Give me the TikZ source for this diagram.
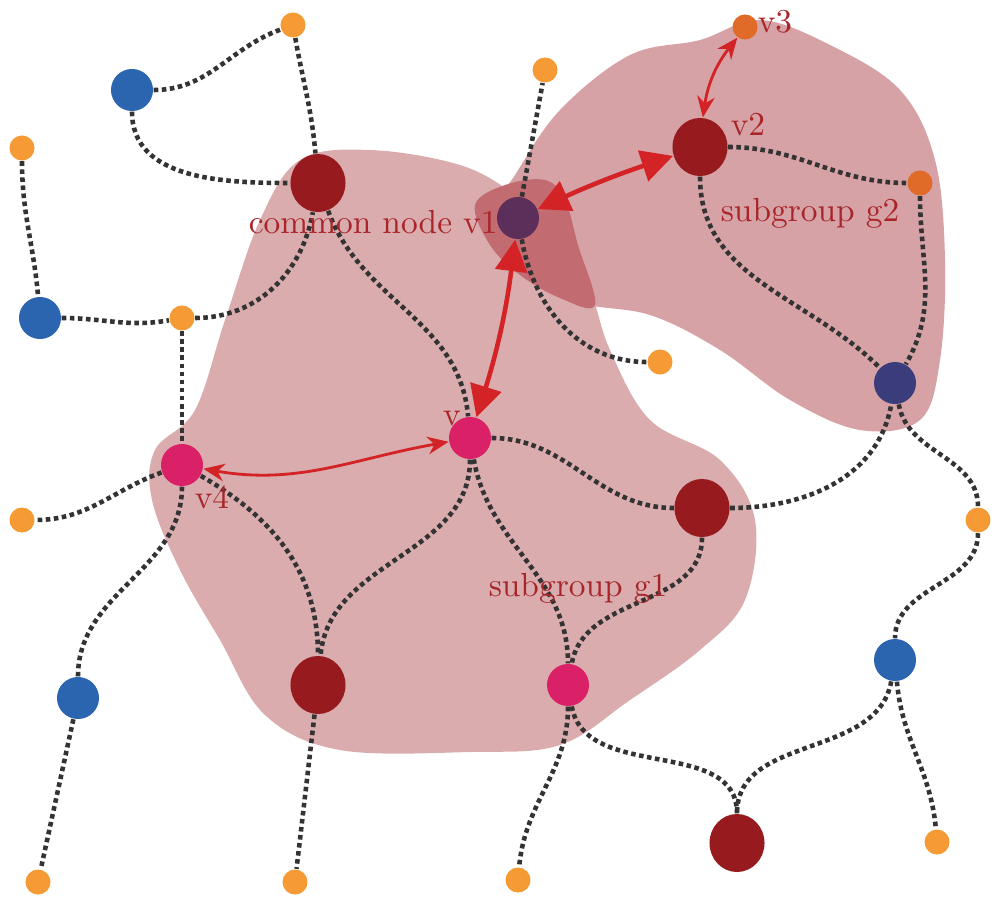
\documentclass[tikz,border=0pt]{standalone}
\usetikzlibrary{arrows.meta}
\definecolor{org}{HTML}{F59A35}
\definecolor{dorg}{HTML}{E06A28}
\definecolor{blu}{HTML}{2B65B0}
\definecolor{drd}{HTML}{961A1E}
\definecolor{pnk}{HTML}{DA2066}
\definecolor{pur}{HTML}{5C2E5A}
\definecolor{nav}{HTML}{3B3C7C}
\definecolor{gone}{HTML}{DAACAE}
\definecolor{gtwo}{HTML}{D6A2A5}
\definecolor{ovl}{HTML}{C26B71}
\definecolor{arr}{HTML}{D42327}
\definecolor{lbl}{HTML}{A8262A}
\begin{document}
\begin{tikzpicture}[x=0.01cm,y=-0.01cm,
 dot/.style={circle,inner sep=0pt,minimum size=#1},
 sm/.style={dot=0.25cm,fill=org},
 bl/.style={dot=0.42cm,fill=blu},
 dr/.style={ellipse,inner sep=0pt,minimum width=0.55cm,minimum height=0.58cm,fill=drd},
 pk/.style={dot=0.42cm,fill=pnk},
 ed/.style={densely dotted,line width=1.3pt,black!80},
 thk/.style={arr,line width=1.3pt,{Triangle[length=9pt,width=9pt]}-{Triangle[length=9pt,width=9pt]}},
 thn/.style={arr,line width=0.8pt,{Stealth[length=6pt,width=5pt]}-{Stealth[length=6pt,width=5pt]}},
 lb/.style={text=lbl,font=\fontsize{9.5}{10}\selectfont}]
\useasboundingbox (0,0) rectangle (1000,903);
\usetikzlibrary{shapes.geometric}
% blobs
\fill[gone] plot[smooth cycle,tension=0.6] coordinates {(300,160)(370,150)(460,165)(515,195)(560,235)(590,290)(610,350)(650,420)(720,460)(755,520)(745,600)(700,650)(630,700)(560,745)(470,752)(340,750)(265,715)(220,640)(180,570)(152,500)(155,450)(195,410)(225,320)(260,220)};
\fill[gtwo] plot[smooth cycle,tension=0.6] coordinates {(515,175)(560,110)(630,55)(700,40)(760,20)(830,45)(900,90)(935,160)(945,260)(940,360)(920,420)(860,430)(790,400)(720,350)(650,315)(570,300)(505,255)(495,210)};
\fill[ovl] plot[smooth cycle,tension=0.6] coordinates {(475,205)(505,185)(545,180)(565,200)(578,245)(595,305)(560,298)(520,275)(490,245)};
% nodes
\node[sm] (o1) at (293,25) {};
\node[sm] (o2) at (22,148) {};
\node[sm] (o3) at (545,70) {};
\node[sm] (o4) at (182,318) {};
\node[sm] (o5) at (660,362) {};
\node[sm] (o6) at (22,520) {};
\node[sm] (o7) at (978,520) {};
\node[sm] (o8) at (38,882) {};
\node[sm] (o9) at (295,882) {};
\node[sm] (o10) at (518,880) {};
\node[sm] (o11) at (937,842) {};
\node[sm,fill=dorg] (v3) at (745,27) {};
\node[sm,fill=dorg] (o12) at (920,183) {};
\node[bl] (b1) at (132,90) {};
\node[bl] (b2) at (40,318) {};
\node[bl] (b3) at (78,698) {};
\node[bl] (b4) at (895,660) {};
\node[dr] (d1) at (318,183) {};
\node[dr] (v2) at (700,147) {};
\node[dr] (d3) at (702,508) {};
\node[dr] (d4) at (318,685) {};
\node[dr] (d5) at (737,843) {};
\node[dot=0.42cm,fill=pur] (v1) at (518,218) {};
\node[dot=0.42cm,fill=nav] (n2) at (895,383) {};
\node[pk] (v) at (470,438) {};
\node[pk] (v4) at (182,465) {};
\node[pk] (p3) at (568,685) {};
% edges
\begin{scope}[on background layer/.style={}]
\draw[ed] (b1) to[out=0,in=200] (o1);
\draw[ed] (o1) to[out=-80,in=95] (d1);
\draw[ed] (b1) to[out=-90,in=180] (d1);
\draw[ed] (o2) to[out=-90,in=95] (b2);
\draw[ed] (b2) to[out=0,in=190] (o4);
\draw[ed] (o4) to[out=0,in=-100] (d1);
\draw[ed] (d1) to[out=-70,in=95] (v);
\draw[ed] (o4) -- (v4);
\draw[ed] (v4) to[out=200,in=0] (o6);
\draw[ed] (v4) to[out=-90,in=90] (b3);
\draw[ed] (b3) -- (o8);
\draw[ed] (v4) to[out=-30,in=90] (d4);
\draw[ed] (v) to[out=-90,in=85] (d4);
\draw[ed] (d4) -- (o9);
\draw[ed] (v) to[out=-80,in=90] (p3);
\draw[ed] (v) to[out=0,in=180] (d3);
\draw[ed] (d3) to[out=-90,in=80] (p3);
\draw[ed] (d3) to[out=0,in=-100] (n2);
\draw[ed] (n2) to[out=-80,in=90] (o7);
\draw[ed] (o7) to[out=-90,in=90] (b4);
\draw[ed] (b4) to[out=-100,in=90] (d5);
\draw[ed] (b4) to[out=-85,in=95] (o11);
\draw[ed] (p3) to[out=-80,in=90] (d5);
\draw[ed] (p3) to[out=-90,in=85] (o10);
\draw[ed] (v1) -- (o3);
\draw[ed] (v1) to[out=-80,in=180] (o5);
\draw[ed] (v2) to[out=0,in=180] (o12);
\draw[ed] (v2) to[out=-90,in=135] (n2);
\draw[ed] (o12) to[out=-90,in=60] (n2);
\end{scope}
% redraw nodes on top
\foreach \n/\s in {o1/sm,o4/sm,v4/pk,v/pk,p3/pk,d1/dr,d3/dr,d4/dr,d5/dr,b4/bl,b3/bl,o7/sm,n2/bl,v2/dr,v1/bl,o12/sm,o5/sm,o3/sm}{}
% arrows
\draw[thk] (v1) to[bend left=5] (v);
\draw[thk] (v1) to[bend left=3] (v2);
\draw[thn] (v2) to[bend left=15] (v3);
\draw[thn] (v4) to[out=-10,in=190] (v);
% labels
\node[lb,anchor=east] (l1) at (510,222) {common node v1};
\node[lb] (l2) at (775,22) {v3};
\node[lb] (l3) at (748,125) {v2};
\node[lb] (l4) at (810,213) {subgroup g2};
\node[lb] (l5) at (452,418) {v};
\node[lb] (l6) at (212,497) {v4};
\node[lb] (l7) at (578,588) {subgroup g1};
\end{tikzpicture}
\end{document}
